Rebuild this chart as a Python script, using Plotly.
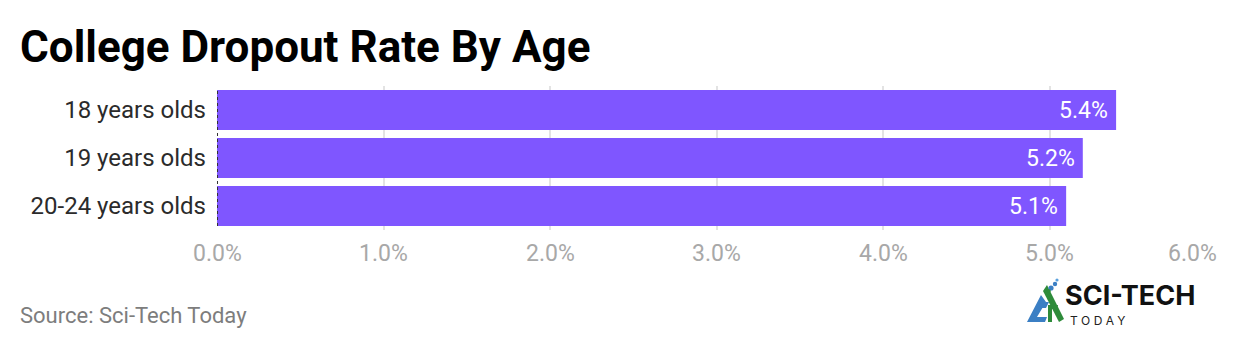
import plotly.graph_objects as go

# Dropout rate by age group (percent)
age_groups = ["18 years olds", "19 years olds", "20-24 years olds"]
dropout_rate = [5.4, 5.2, 5.1]
x_ticks = [0, 1, 2, 3, 4, 5, 6]
x_tick_labels = ["0.0%", "1.0%", "2.0%", "3.0%", "4.0%", "5.0%", "6.0%"]

BAR_COLOR = "#7f56ff"
FONT = "Roboto"

W, H = 1240, 348
ML, MR, MT, MB = 217, 24, 86, 118
PW, PH = W - ML - MR, H - MT - MB


def fx(x):
    """Pixel column -> paper x."""
    return (x - ML) / PW


def fy(y):
    """Pixel row -> paper y."""
    return (H - MB - y) / PH


fig = go.Figure()
fig.add_trace(go.Bar(
    x=dropout_rate,
    y=age_groups,
    orientation="h",
    marker=dict(color=BAR_COLOR, line=dict(width=0)),
    hoverinfo="skip",
))

annotations = []

# Value labels at the right end of each bar
for cat, v in zip(age_groups, dropout_rate):
    annotations.append(dict(
        text=f"{v:.1f}%", x=v, y=cat, xref="x", yref="y",
        xanchor="right", yanchor="middle", xshift=-6, showarrow=False,
        font=dict(family=FONT, size=23, color="white"),
    ))

# Axis tick labels (last one kept inside the plot edge)
for i, (t, lab) in enumerate(zip(x_ticks, x_tick_labels)):
    last = i == len(x_ticks) - 1
    annotations.append(dict(
        text=lab, x=t, y=fy(253), xref="x", yref="paper",
        xanchor="right" if last else "center", yanchor="middle",
        xshift=3 if last else 0,
        showarrow=False, font=dict(family=FONT, size=23, color="#a8a8a8"),
    ))

annotations += [
    dict(text="<b>College Dropout Rate By Age</b>", x=fx(18), y=fy(47),
         xref="paper", yref="paper", xanchor="left", yanchor="middle",
         showarrow=False, font=dict(family=FONT, size=44, color="#000000")),
    dict(text="Source: Sci-Tech Today", x=fx(18), y=fy(315),
         xref="paper", yref="paper", xanchor="left", yanchor="middle",
         showarrow=False, font=dict(family=FONT, size=22, color="#7d7d7d")),
    dict(text="<b>SCI-TECH</b>", x=fx(1063), y=fy(295),
         xref="paper", yref="paper", xanchor="left", yanchor="middle",
         showarrow=False, font=dict(family="Inter", size=27, color="#111111")),
    dict(text="T O D A Y", x=fx(1068), y=fy(320),
         xref="paper", yref="paper", xanchor="left", yanchor="middle",
         showarrow=False, font=dict(family="Inter", size=12, color="#222222")),
]

fig.update_layout(
    width=W,
    height=H,
    margin=dict(l=ML, r=MR, t=MT, b=MB),
    paper_bgcolor="white",
    plot_bgcolor="white",
    bargap=0.1667,
    showlegend=False,
    font=dict(family=FONT),
    xaxis=dict(
        range=[0, 6],
        tickvals=x_ticks,
        showticklabels=False,
        showgrid=True,
        gridcolor="#e3e3e3",
        gridwidth=2,
        zeroline=False,
        showline=False,
        ticks="",
        automargin=False,
        fixedrange=True,
    ),
    yaxis=dict(
        autorange="reversed",
        showgrid=False,
        zeroline=False,
        showline=False,
        ticks="",
        ticklabelstandoff=10,
        tickfont=dict(family=FONT, size=24, color="#2b2b2b"),
        automargin=False,
        fixedrange=True,
    ),
    annotations=annotations,
)

# Dark baseline at zero
fig.add_shape(type="line", xref="x", yref="paper", x0=0, x1=0, y0=fy(226), y1=fy(90),
              line=dict(color="#333333", width=2, dash="dot"))


# Logo mark: blue and green triangular glyph with small dots
def path(points):
    parts = []
    for i, (x, y) in enumerate(points):
        parts.append(("M" if i == 0 else "L") + f"{fx(x):.5f},{fy(y):.5f}")
    return " ".join(parts) + " Z"


fig.add_shape(type="path", xref="paper", yref="paper",
              path=path([(1027, 322), (1041, 295), (1046, 302), (1037, 317), (1047, 317), (1045, 322)]),
              fillcolor="#3b7fc4", line=dict(width=0))
fig.add_shape(type="path", xref="paper", yref="paper",
              path=path([(1041, 302), (1049, 302), (1046, 308), (1038, 308)]),
              fillcolor="#3b7fc4", line=dict(width=0))
fig.add_shape(type="path", xref="paper", yref="paper",
              path=path([(1043, 291), (1047, 285), (1064, 319), (1059, 322)]),
              fillcolor="#2e8b3a", line=dict(width=0))
fig.add_shape(type="path", xref="paper", yref="paper",
              path=path([(1048, 305), (1058, 305), (1057, 309), (1052, 309), (1052, 322), (1048, 322)]),
              fillcolor="#2e8b3a", line=dict(width=0))
for cx, cy, r, col in [(1051, 288, 2.6, "#3b7fc4"), (1055, 284, 2.2, "#3b7fc4"),
                       (1057, 280, 1.6, "#5aa0dd"), (1049, 291, 1.8, "#2e8b3a")]:
    fig.add_shape(type="circle", xref="paper", yref="paper",
                  x0=fx(cx - r), y0=fy(cy + r), x1=fx(cx + r), y1=fy(cy - r),
                  fillcolor=col, line=dict(width=0))

fig.write_html("out.html")
